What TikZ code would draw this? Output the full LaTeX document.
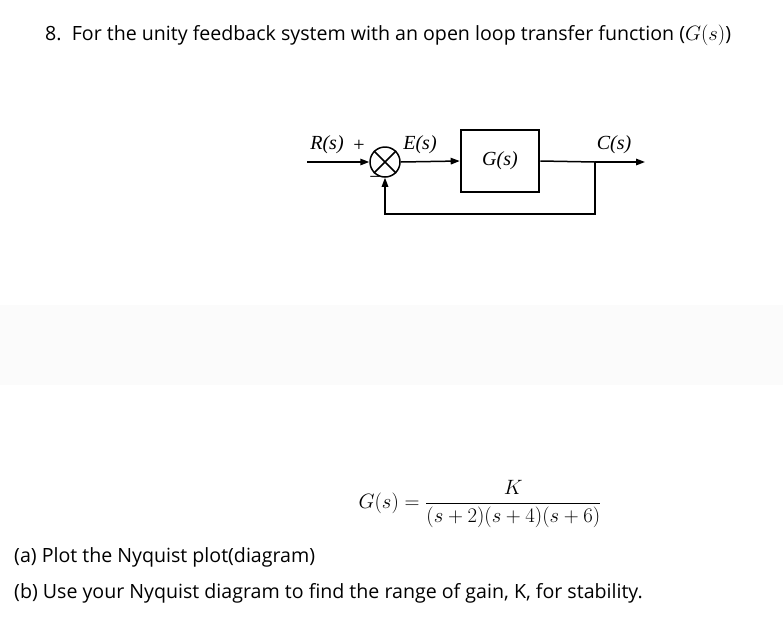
\documentclass[tikz,border=0pt]{standalone}
\usepackage{fontspec}
\setmainfont{Open Sans}
\newfontfamily\tnr{Liberation Serif}
\usetikzlibrary{arrows.meta}
\begin{document}
\begin{tikzpicture}[x=1pt,y=-1pt,
  line/.style={line width=1.5pt},
  arr/.style={line, -{Triangle[length=9pt,width=6.5pt]}},
  lbl/.style={font=\tnr\fontsize{20}{20}\selectfont\itshape, inner sep=0pt},
  txt/.style={font=\fontsize{19.6}{22}\selectfont, anchor=west, inner sep=0pt}]
\useasboundingbox[fill=white] (0,0) rectangle (783,635);
\fill[black!1.5] (0,305) rectangle (783,385);
\node[txt] (t) at (45,35) {8.\ \ For the unity feedback system with an open loop transfer function ($G(s)$)};
% block diagram
\node[circle, draw, line width=1.5pt, minimum size=30pt, inner sep=0pt] (sum) at (385,162) {};
\draw[line] (sum.north west) -- (sum.south east) (sum.north east) -- (sum.south west);
\node[draw, line width=2.6pt, minimum width=78pt, minimum height=62pt] (G) at (500,161) {};
\node[lbl] (Gl) at (500,161) {G(s)};
\coordinate (in) at (307,162);
\coordinate (out) at (645,162);
\coordinate (br) at (595,162);
\coordinate (bl) at (595,214);
\coordinate (bb) at (385,214);
\draw[arr] (in) -- (sum.west);
\draw[arr] (sum.east) -- (G.west);
\draw[line] (G.east) -- (br);
\draw[arr] (br) -- (out);
\draw[arr] (br) -- (bl) -- (bb) -- (sum.south);
\node[lbl] (R) at (327,145) {R(s)};
\node[lbl] (plus) at (359,146) {\upshape +};
\node[lbl] (minus) at (375,180) {\upshape −};
\node[lbl] (E) at (420,145) {E(s)};
\node[lbl] (C) at (614,145) {C(s)};
% equation
\node[inner sep=0pt, font=\fontsize{21}{24}\selectfont] (eq) at (480,504) {$\displaystyle G(s)=\frac{K}{(s+2)(s+4)(s+6)}$};
\node[txt] (a) at (14,557) {(a) Plot the Nyquist plot(diagram)};
\node[txt] (b) at (14,593) {(b) Use your Nyquist diagram to find the range of gain, K, for stability.};
\end{tikzpicture}
\end{document}
